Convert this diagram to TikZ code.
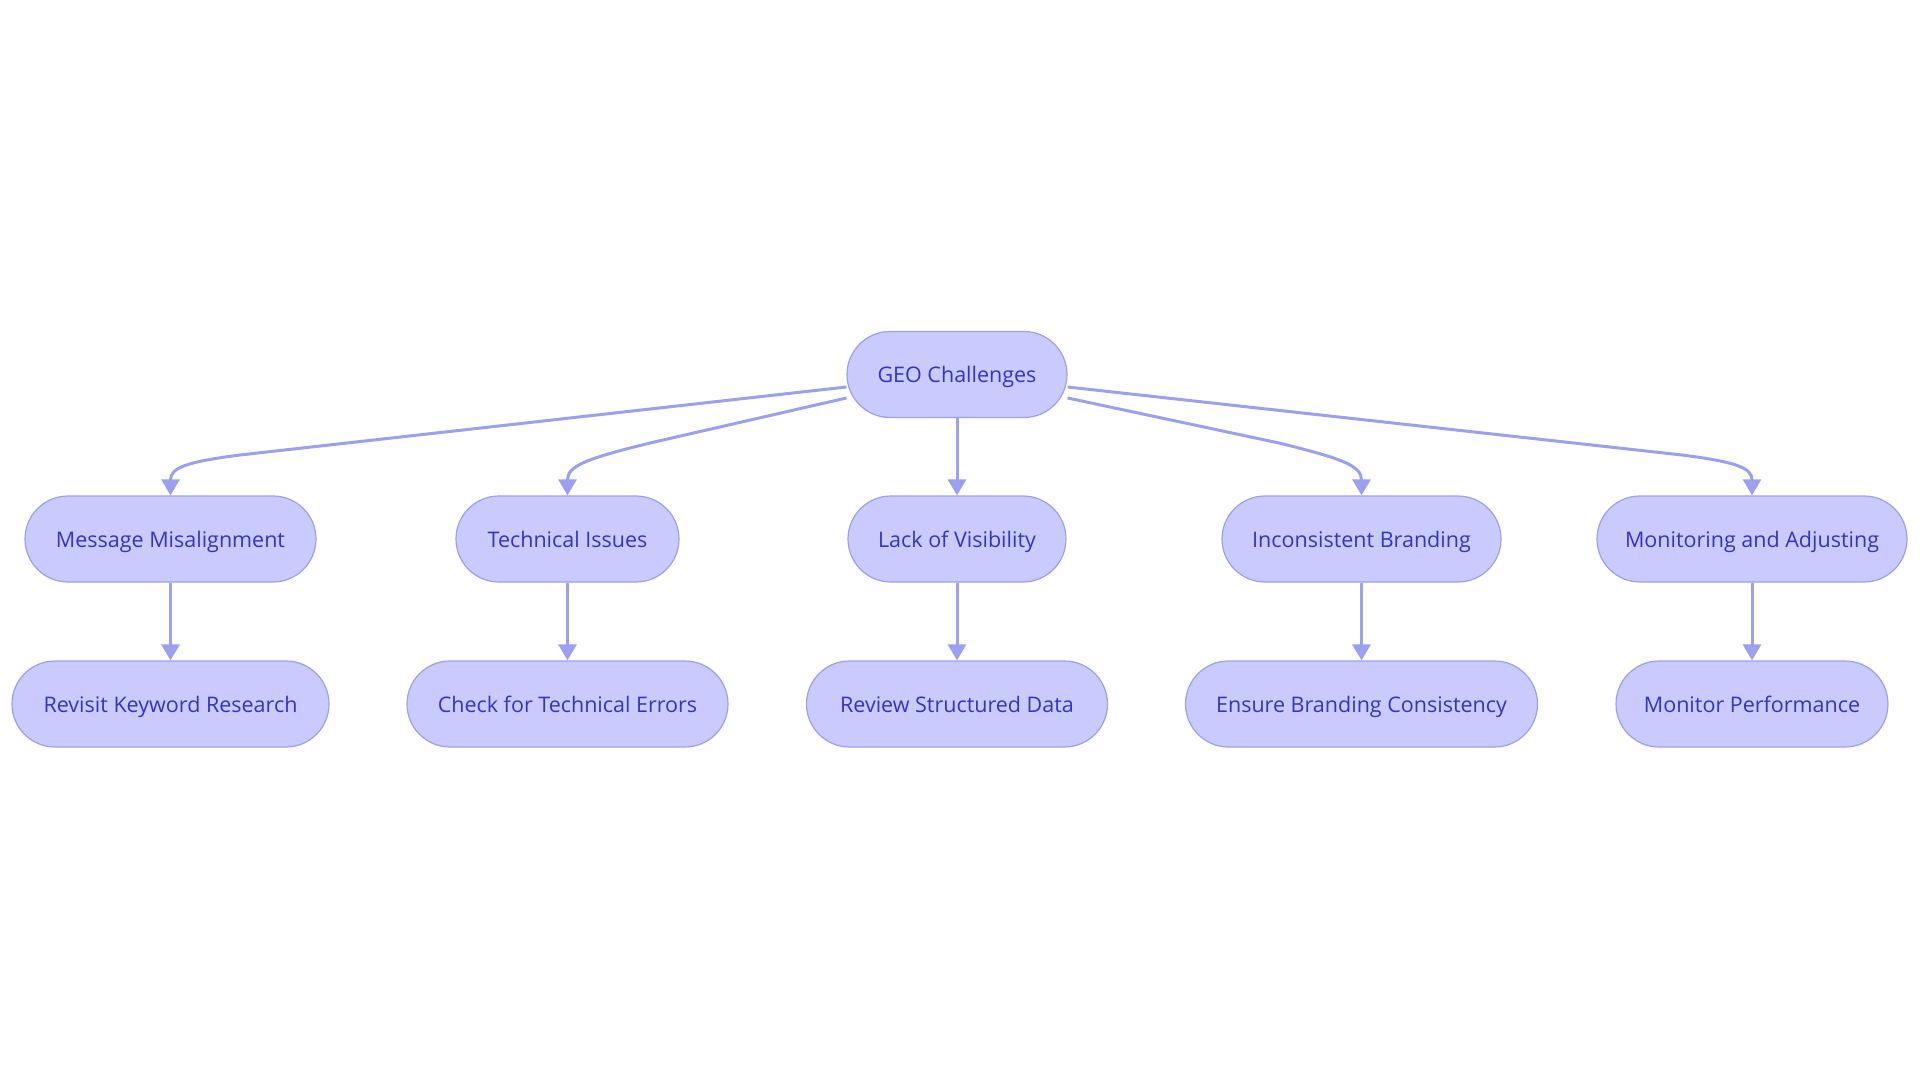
\documentclass[tikz,border=0pt]{standalone}
\usepackage{fontspec}
\setmainfont{Open Sans}
\usetikzlibrary{arrows.meta}
\definecolor{nodefill}{HTML}{C9CBFF}
\definecolor{nodeline}{HTML}{9A9FF0}
\definecolor{nodetext}{HTML}{3333C8}
\definecolor{edgecol}{HTML}{9BA0F0}
\tikzset{
  box/.style={draw=nodeline, line width=1.2pt, fill=nodefill, rounded corners=43pt,
    minimum height=86pt, text=nodetext, font=\fontsize{21.5}{26}\selectfont, inner sep=0pt,
    text height=18pt, text depth=2pt},
  edge/.style={draw=edgecol, line width=3pt, -{Triangle[length=16pt,width=18pt]}}
}
\begin{document}
\begin{tikzpicture}[x=1pt,y=-1pt]
\useasboundingbox (0,0) rectangle (1920,1083);
\node[box, minimum width=220pt] (geo) at (957,374.5) {GEO Challenges};
\node[box, minimum width=291pt] (mm) at (170.5,539) {Message Misalignment};
\node[box, minimum width=223pt] (ti) at (567.5,539) {Technical Issues};
\node[box, minimum width=218pt] (lv) at (957,539) {Lack of Visibility};
\node[box, minimum width=279pt] (ib) at (1361.5,539) {Inconsistent Branding};
\node[box, minimum width=310pt] (ma) at (1752,539) {Monitoring and Adjusting};
\node[box, minimum width=317pt] (rk) at (170.5,704) {Revisit Keyword Research};
\node[box, minimum width=321pt] (ct) at (567.5,704) {Check for Technical Errors};
\node[box, minimum width=301pt] (rs) at (957,704) {Review Structured Data};
\node[box, minimum width=352pt] (eb) at (1361.5,704) {Ensure Branding Consistency};
\node[box, minimum width=272pt] (mp) at (1752,704) {Monitor Performance};

\coordinate (gl1) at ([yshift=-12.5pt]geo.west);
\coordinate (gl2) at ([yshift=-23.5pt]geo.west);
\coordinate (gr1) at ([yshift=-12.5pt]geo.east);
\coordinate (gr2) at ([yshift=-23.5pt]geo.east);

\draw[edge] (gl1) -- (240,455) .. controls (185,462) and (170.5,468) .. (mm.north);
\draw[edge] (gl2) -- (650,443) .. controls (585,459) and (567.5,466) .. (ti.north);
\draw[edge] (geo) -- (lv);
\draw[edge] (gr2) -- (1279,443) .. controls (1344,459) and (1361.5,466) .. (ib.north);
\draw[edge] (gr1) -- (1682,455) .. controls (1737,462) and (1752,468) .. (ma.north);

\draw[edge] (mm) -- (rk);
\draw[edge] (ti) -- (ct);
\draw[edge] (lv) -- (rs);
\draw[edge] (ib) -- (eb);
\draw[edge] (ma) -- (mp);
\end{tikzpicture}
\end{document}
